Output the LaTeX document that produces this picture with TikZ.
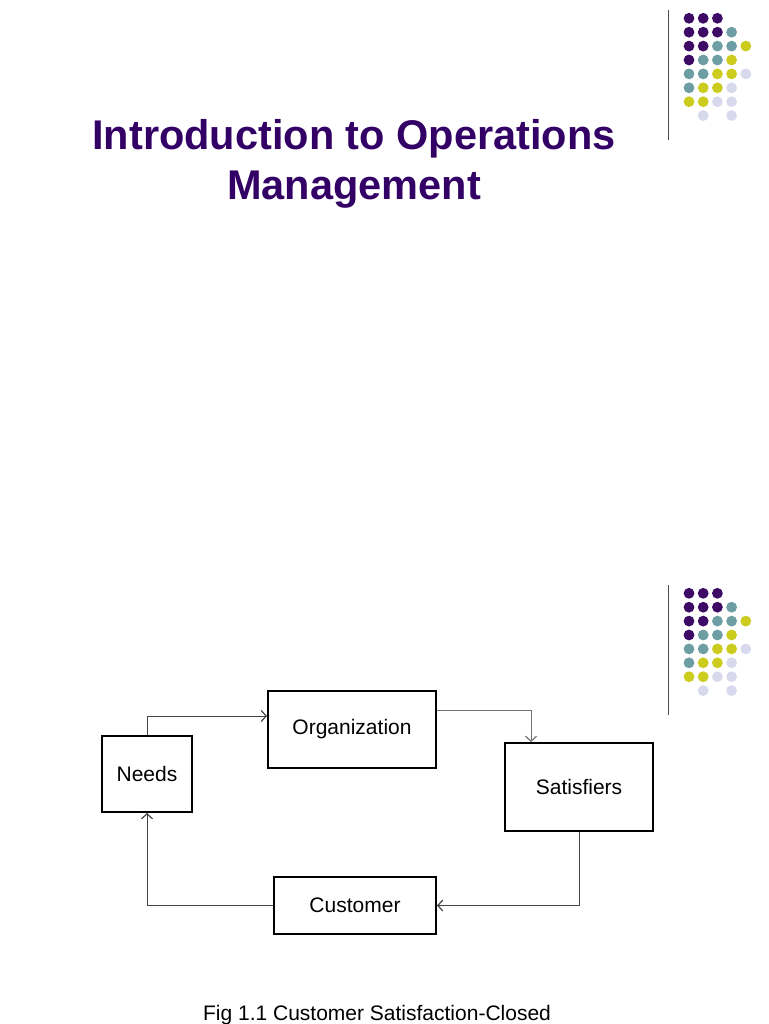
\documentclass[tikz,border=0pt]{standalone}
\usepackage{fontspec}
\setmainfont{Liberation Sans}
\usetikzlibrary{arrows.meta}
\definecolor{titlepurple}{HTML}{330066}
\definecolor{dotpurple}{HTML}{3D0A66}
\definecolor{dotteal}{HTML}{6D9EA3}
\definecolor{dotyellow}{HTML}{CCCC1E}
\definecolor{dotlilac}{HTML}{D9D9EE}
\definecolor{linegray}{HTML}{444444}
\begin{document}
\begin{tikzpicture}[x=1pt,y=-1pt,>={Straight Barb[length=5pt,width=11pt,line width=1.2pt]}]
	\tikzstyle{box}=[rectangle,draw=black,line width=2pt,inner sep=0pt,font=\fontsize{21}{25}\selectfont]
	\tikzstyle{link}=[draw=linegray,line width=1pt,->]
	\tikzstyle{title}=[anchor=base,text=titlepurple,font=\fontsize{41.5}{49}\bfseries\selectfont]
	\tikzstyle{dot}=[radius=5.4]
	\useasboundingbox[fill=white] (0,0) rectangle (768,1024);

	% slide decoration, top and bottom
	\foreach \dy in {0,575} {
		\draw[black!70,line width=0.8pt] (668,10+\dy) -- (668,140+\dy);
		\foreach \c/\r/\col in {0/0/dotpurple,1/0/dotpurple,2/0/dotpurple,
			0/1/dotpurple,1/1/dotpurple,2/1/dotpurple,3/1/dotteal,
			0/2/dotpurple,1/2/dotpurple,2/2/dotteal,3/2/dotteal,4/2/dotyellow,
			0/3/dotpurple,1/3/dotteal,2/3/dotteal,3/3/dotyellow,
			0/4/dotteal,1/4/dotteal,2/4/dotyellow,3/4/dotyellow,4/4/dotlilac,
			0/5/dotteal,1/5/dotyellow,2/5/dotyellow,3/5/dotlilac,
			0/6/dotyellow,1/6/dotyellow,2/6/dotlilac,3/6/dotlilac,
			1/7/dotlilac,3/7/dotlilac}
			\fill[\col,dot] (689+14.2*\c,18.3+13.9*\r+\dy) circle;
	}

	\node[title] (T1) at (354,150) {Introduction to Operations};
	\node[title] (T2) at (354,200) {Management};

	\node[box,minimum width=90pt,minimum height=76pt] (B1) at (147,774) {Needs};
	\node[box,minimum width=168pt,minimum height=77pt] (B2) at (352,729.5) {Organization};
	\node[box,minimum width=148pt,minimum height=88pt] (B3) at (579,787) {Satisfiers};
	\node[box,minimum width=162pt,minimum height=57pt] (B4) at (355,905.5) {Customer};

	\draw[link] (B1.north) |- ([yshift=13.5pt]B2.west);
	\draw[link,draw=black!55] ([yshift=19.5pt]B2.east) -| ([xshift=-48pt]B3.north);
	\draw[link] (B3.south) |- (B4.east);
	\draw[link] (B4.west) -| (B1.south);

	\node[anchor=base,font=\fontsize{21}{25}\selectfont] (F1) at (377,1020) {Fig 1.1 Customer Satisfaction-Closed};
\end{tikzpicture}
\end{document}
